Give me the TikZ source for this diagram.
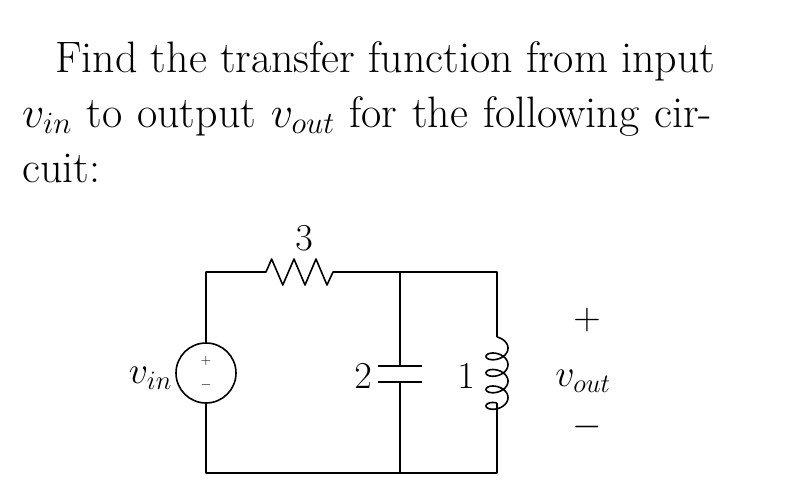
\RequirePackage{fix-cm}
\documentclass[tikz,border=0pt]{standalone}
\tikzset{wire/.style={line width=1.6pt,line join=round},
 lbl/.style={inner sep=0pt,font=\fontsize{38}{46}\selectfont},
 txt/.style={inner sep=0pt,anchor=base west,font=\fontsize{44}{50}\selectfont}}
\begin{document}
\begin{tikzpicture}[x=1pt,y=-1pt]
\useasboundingbox (0,0) rectangle (810,490);
\node[txt] (l1) at (55,72) {Find the transfer function from input};
\node[txt] (l2) at (22,127) {\hbox to 690pt{$v_{in}$ to output $v_{out}$ for the following cir-}};
\node[txt] (l3) at (22,182) {cuit:};
% nodes
\coordinate (tl) at (206,272); \coordinate (bl) at (206,473);
\coordinate (tm) at (400,272); \coordinate (bm) at (400,473);
\coordinate (tr) at (497,272); \coordinate (br) at (497,473);
\node[circle,draw,line width=1.6pt,minimum size=60pt,inner sep=0pt] (src) at (206,373) {};
\node[font=\fontsize{14}{14}\selectfont,inner sep=0pt] (sp) at (206,361) {$+$};
\node[font=\fontsize{14}{14}\selectfont,inner sep=0pt] (sm) at (206,385) {$-$};
\draw[wire] (src.north) -- (tl) -- (266,272) -- (271.6,259) -- (282.8,285) -- (294,259) -- (305,285) -- (316,259) -- (327,285) -- (333,272) -- (tm) -- (tr) -- (497,337);
\draw[wire] (src.south) -- (bl) -- (bm) -- (br) -- (497,403);
\draw[wire] (tm) -- (400,366) (378,366) -- (422,366) (378,382) -- (422,382) (400,382) -- (bm);
\draw[wire,smooth,samples=160,domain=0:4] plot ({497+11*sin(360*\x)},{344+16.5*\x-7*cos(360*\x)});
\draw[wire] (497,403) -- (497,410);
\node[lbl] (r3) at (304,238) {$3$};
\node[lbl] (c2) at (363,376) {$2$};
\node[lbl] (i1) at (466,376) {$1$};
\node[lbl,anchor=east] (vin) at (172,378) {$v_{in}$};
\node[lbl] (vout) at (583,381) {$v_{out}$};
\node[lbl] (vp) at (587,320) {$+$};
\node[lbl] (vm) at (587,427) {$-$};
\end{tikzpicture}
\end{document}
